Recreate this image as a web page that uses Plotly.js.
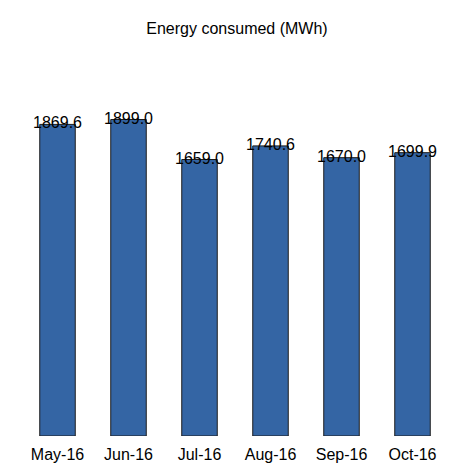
<!DOCTYPE html>
<html><head><meta charset="utf-8">
<script src="https://cdn.plot.ly/plotly-3.0.1.min.js"></script>
<style>html,body{margin:0;padding:0;background:#fff}#c{width:474px;height:474px}</style>
</head><body><div id="c"></div>
<script>
const months = ["May-16","Jun-16","Jul-16","Aug-16","Sep-16","Oct-16"];
const energy = [1869.6, 1899.0, 1659.0, 1740.6, 1670.0, 1699.9];
const labels = energy.map(v => v.toFixed(1));

const data = [
  {type:'bar', x:months, y:energy, width:0.5,
   marker:{color:'#3465a4', line:{color:'#1c1c1c', width:1}},
   hoverinfo:'none'},
  {type:'scatter', mode:'text', x:months, y:energy, text:labels,
   textposition:'middle center', textfont:{family:'Liberation Sans, Arial, sans-serif', size:16, color:'#000'},
   hoverinfo:'none'}
];
const layout = {
  width:474, height:474,
  margin:{l:22, r:26, t:60, b:38},
  showlegend:false,
  paper_bgcolor:'#fff', plot_bgcolor:'#fff',
  font:{family:'Liberation Sans, Arial, sans-serif', color:'#000'},
  title:{text:'Energy consumed (MWh)', font:{size:16, color:'#000'}, x:0.5, xanchor:'center', y:0.94, yanchor:'middle'},
  xaxis:{type:'category', showgrid:false, zeroline:false, showline:false, ticks:'outside', ticklen:4, tickcolor:'rgba(0,0,0,0)', tickfont:{size:16, color:'#000'}, fixedrange:true},
  yaxis:{range:[0,2256], visible:false, showgrid:false, zeroline:false, fixedrange:true}
};
Plotly.newPlot('c', data, layout, {staticPlot:true});
</script></body></html>
